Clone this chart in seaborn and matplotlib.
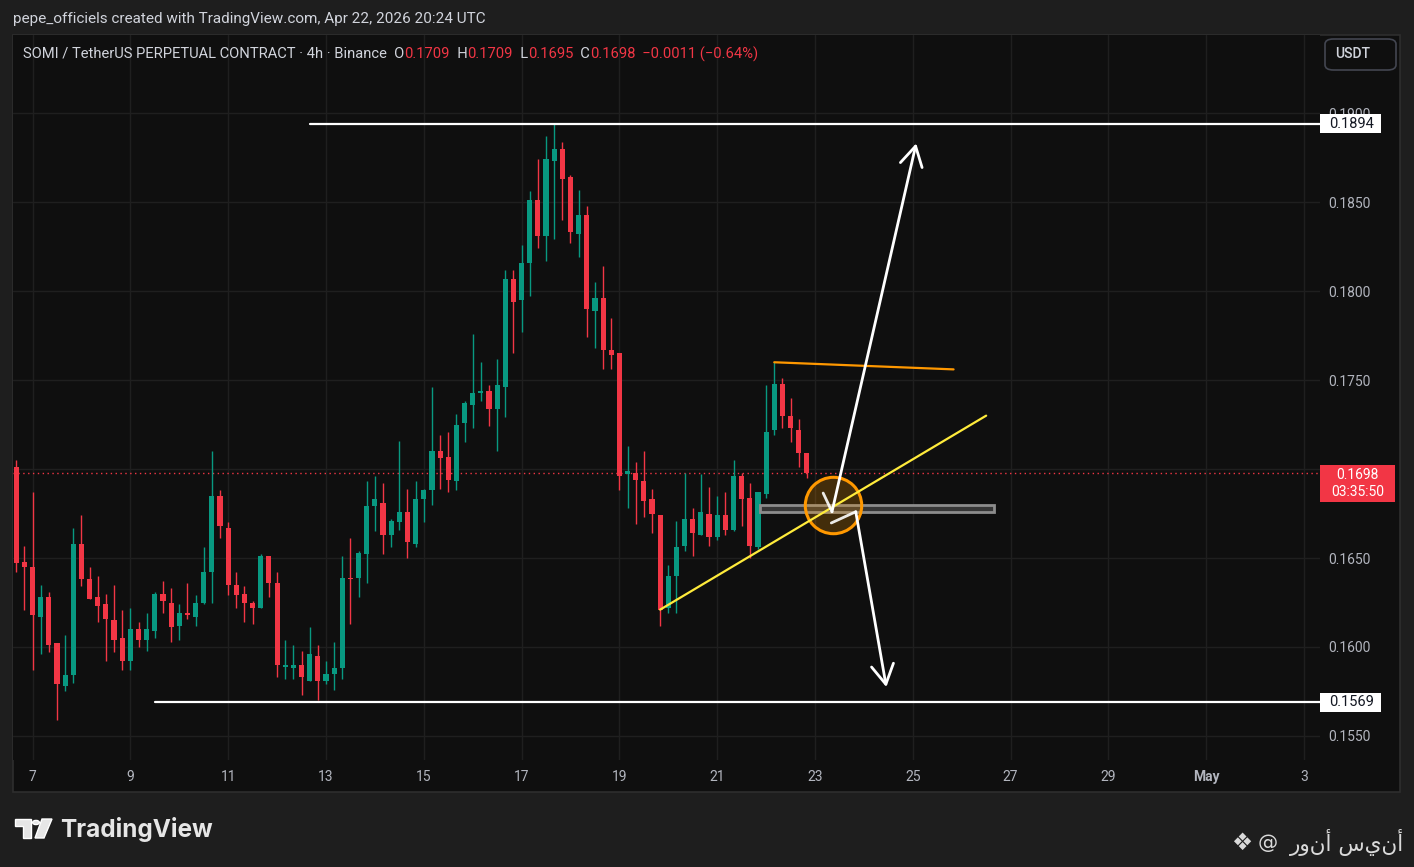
import matplotlib
matplotlib.use("Agg")
from matplotlib import pyplot as plt
import matplotlib.dates as mdates
import matplotlib.patches as mpatches
import numpy as np
import pandas as pd
import seaborn as sns

# 4h candles, SOMI/USDT perp (Binance), Apr 6 16:00 -> Apr 22 20:00 UTC
start = "2026-04-06 16:00"
opens = [0.1701, 0.1648, 0.1645, 0.1617, 0.1628, 0.1602, 0.1578, 0.1584, 0.1658, 0.1638,
         0.1628, 0.1624, 0.1615, 0.1605, 0.1592, 0.1610, 0.1604, 0.1609, 0.1630, 0.1625,
         0.1612, 0.1619, 0.1617, 0.1625, 0.1642, 0.1685, 0.1667, 0.1635, 0.1630, 0.1625,
         0.1622, 0.1651, 0.1636, 0.1589, 0.1588, 0.1590, 0.1581, 0.1595, 0.1581, 0.1585,
         0.1588, 0.1639, 0.1639, 0.1652, 0.1679, 0.1681, 0.1663, 0.1670, 0.1676, 0.1658,
         0.1683, 0.1688, 0.1710, 0.1707, 0.1693, 0.1726, 0.1736, 0.1743, 0.1744, 0.1734,
         0.1746, 0.1807, 0.1795, 0.1816, 0.1851, 0.1831, 0.1873, 0.1880, 0.1864, 0.1832,
         0.1843, 0.1789, 0.1796, 0.1767, 0.1765, 0.1697, 0.1698, 0.1693, 0.1683, 0.1674,
         0.1622, 0.1640, 0.1657, 0.1672, 0.1663, 0.1675, 0.1662, 0.1674, 0.1666, 0.1696,
         0.1684, 0.1656, 0.1686, 0.1722, 0.1748, 0.1730, 0.1722, 0.1709]
highs = [0.1705, 0.1657, 0.1687, 0.1635, 0.1631, 0.1602, 0.1607, 0.1667, 0.1674, 0.1645,
         0.1640, 0.1630, 0.1635, 0.1621, 0.1622, 0.1614, 0.1619, 0.1631, 0.1637, 0.1633,
         0.1624, 0.1636, 0.1629, 0.1656, 0.1710, 0.1688, 0.1670, 0.1642, 0.1634, 0.1626,
         0.1652, 0.1651, 0.1642, 0.1604, 0.1601, 0.1598, 0.1611, 0.1601, 0.1592, 0.1603,
         0.1651, 0.1661, 0.1654, 0.1693, 0.1696, 0.1692, 0.1672, 0.1716, 0.1689, 0.1693,
         0.1689, 0.1746, 0.1719, 0.1721, 0.1731, 0.1738, 0.1776, 0.1760, 0.1747, 0.1762,
         0.1812, 0.1812, 0.1826, 0.1856, 0.1874, 0.1887, 0.1894, 0.1884, 0.1865, 0.1857,
         0.1848, 0.1805, 0.1814, 0.1785, 0.1765, 0.1713, 0.1704, 0.1710, 0.1689, 0.1674,
         0.1646, 0.1671, 0.1698, 0.1678, 0.1697, 0.1690, 0.1685, 0.1687, 0.1705, 0.1698,
         0.1692, 0.1687, 0.1747, 0.1760, 0.1751, 0.1740, 0.1728, 0.1709]
lows = [0.1642, 0.1621, 0.1587, 0.1596, 0.1597, 0.1559, 0.1575, 0.1580, 0.1634, 0.1627,
        0.1614, 0.1592, 0.1597, 0.1587, 0.1587, 0.1600, 0.1598, 0.1605, 0.1619, 0.1603,
        0.1604, 0.1616, 0.1612, 0.1624, 0.1625, 0.1661, 0.1629, 0.1622, 0.1614, 0.1613,
        0.1622, 0.1628, 0.1583, 0.1582, 0.1582, 0.1573, 0.1581, 0.1570, 0.1579, 0.1576,
        0.1582, 0.1613, 0.1628, 0.1636, 0.1665, 0.1652, 0.1656, 0.1666, 0.1650, 0.1656,
        0.1670, 0.1680, 0.1689, 0.1687, 0.1688, 0.1715, 0.1723, 0.1738, 0.1724, 0.1710,
        0.1729, 0.1765, 0.1777, 0.1797, 0.1824, 0.1817, 0.1829, 0.1840, 0.1827, 0.1819,
        0.1774, 0.1768, 0.1756, 0.1756, 0.1688, 0.1678, 0.1669, 0.1673, 0.1664, 0.1612,
        0.1619, 0.1619, 0.1654, 0.1651, 0.1663, 0.1657, 0.1660, 0.1663, 0.1665, 0.1668,
        0.1650, 0.1655, 0.1684, 0.1719, 0.1723, 0.1715, 0.1701, 0.1695]
closes = [0.1647, 0.1645, 0.1618, 0.1628, 0.1601, 0.1579, 0.1584, 0.1658, 0.1638, 0.1627,
          0.1623, 0.1616, 0.1604, 0.1592, 0.1610, 0.1604, 0.1610, 0.1630, 0.1626, 0.1611,
          0.1619, 0.1618, 0.1625, 0.1642, 0.1685, 0.1668, 0.1635, 0.1629, 0.1625, 0.1622,
          0.1651, 0.1636, 0.1590, 0.1590, 0.1590, 0.1583, 0.1596, 0.1581, 0.1585, 0.1588,
          0.1639, 0.1638, 0.1653, 0.1679, 0.1683, 0.1663, 0.1671, 0.1676, 0.1659, 0.1683,
          0.1688, 0.1710, 0.1706, 0.1694, 0.1725, 0.1737, 0.1743, 0.1744, 0.1734, 0.1747,
          0.1807, 0.1794, 0.1816, 0.1851, 0.1831, 0.1874, 0.1880, 0.1863, 0.1833, 0.1843,
          0.1790, 0.1796, 0.1767, 0.1764, 0.1696, 0.1699, 0.1694, 0.1682, 0.1675, 0.1621,
          0.1640, 0.1656, 0.1672, 0.1664, 0.1676, 0.1662, 0.1674, 0.1666, 0.1696, 0.1683,
          0.1657, 0.1687, 0.1721, 0.1748, 0.1730, 0.1723, 0.1709, 0.1698]

price_ticks = [0.1550, 0.1600, 0.1650, 0.1700, 0.1750, 0.1800, 0.1850, 0.1900]
time_ticks = ["2026-04-07", "2026-04-09", "2026-04-11", "2026-04-13", "2026-04-15",
              "2026-04-17", "2026-04-19", "2026-04-21", "2026-04-23", "2026-04-25",
              "2026-04-27", "2026-04-29", "2026-05-01", "2026-05-03"]
time_labels = ["7", "9", "11", "13", "15", "17", "19", "21", "23", "25", "27", "29", "May", "3"]

# drawings on the chart: (time, price) anchors
resistance = (["2026-04-12 16:00", "2026-05-04 00:00"], [0.1894, 0.1894])
support = (["2026-04-09 12:00", "2026-05-04 00:00"], [0.1569, 0.1569])
yellow_trend = (["2026-04-19 20:00", "2026-04-26 12:00"], [0.1621, 0.1730])
orange_top = (["2026-04-22 04:00", "2026-04-25 20:00"], [0.1760, 0.1756])
zone_box = ("2026-04-21 21:00", "2026-04-26 16:00", 0.1676, 0.1680)
circle_pt = ("2026-04-23 08:40", 0.1680)
arrow_up = (("2026-04-23 08:20", 0.1676), ("2026-04-25 01:40", 0.1883), ("2026-04-23 04:00", 0.16865))
arrow_down = (("2026-04-23 20:00", 0.1676), ("2026-04-24 11:00", 0.15775), ("2026-04-23 08:00", 0.16697))
last_price = 0.1698

GREEN = "#089981"
RED = "#f23645"
TXT = "#d1d4dc"
AX_TXT = "#b2b5be"
W, H = 1414, 867

sns.set_theme(style="dark")
plt.rcParams['font.family'] = ['Roboto', 'DejaVu Sans']

fig = plt.figure(figsize=(W / 100, H / 100), dpi=100, facecolor="#1e1e1e")


def fx(x):
    return x / W


def fy(y):
    return 1 - y / H


# chart container (behind the axes)
fig.patches.append(mpatches.Rectangle((fx(13), fy(792)), fx(1400) - fx(13), fy(35) - fy(792),
                                      transform=fig.transFigure, facecolor="#0f0f0f",
                                      edgecolor="#2e2e2e", linewidth=1.2, zorder=-5))

ax = fig.add_axes([fx(13), fy(760), fx(1320) - fx(13), fy(35) - fy(760)])
ax.set_facecolor("#0f0f0f")
ax.set_zorder(1)

times = pd.date_range(start, periods=len(opens), freq="4h")
df = pd.DataFrame({"time": times, "open": opens, "high": highs, "low": lows, "close": closes})
df["up"] = df["close"] >= df["open"]
df["color"] = np.where(df["up"], GREEN, RED)
df["bottom"] = df[["open", "close"]].min(axis=1)
df["height"] = (df["close"] - df["open"]).abs().clip(lower=0.00007)

ax.vlines(df["time"], df["low"], df["high"], colors=df["color"], linewidth=1.0, zorder=3)
ax.bar(df["time"], df["height"], bottom=df["bottom"], width=0.105, color=df["color"],
       linewidth=0, zorder=4)

# current price dotted line
ax.axhline(last_price, color=RED, linewidth=1, linestyle=(0, (1, 2.5)), zorder=2)

# zone box and circle
t0, t1, b0, b1 = zone_box
ax.add_patch(mpatches.Rectangle((mdates.date2num(pd.Timestamp(t0)), b0),
                                mdates.date2num(pd.Timestamp(t1)) - mdates.date2num(pd.Timestamp(t0)),
                                b1 - b0, facecolor="#363636", edgecolor="#8c8c8c",
                                linewidth=2, zorder=5))
ax.scatter([pd.Timestamp(circle_pt[0])], [circle_pt[1]], s=1650, facecolor=(1.0, 0.6, 0.0, 0.22),
           edgecolor="#ff9800", linewidth=2.2, zorder=6)

# lines
for (tx, py), col in [(resistance, "white"), (support, "white"),
                      (yellow_trend, "#ffeb3b"), (orange_top, "#ff9800")]:
    sns.lineplot(x=pd.to_datetime(tx), y=py, ax=ax, color=col, linewidth=1.6, zorder=7)

# arrows
for tail, head, stroke in [arrow_up, arrow_down]:
    tt = mdates.date2num(pd.Timestamp(tail[0]))
    hh = mdates.date2num(pd.Timestamp(head[0]))
    ss = mdates.date2num(pd.Timestamp(stroke[0]))
    ax.annotate("", xy=(hh, head[1]), xytext=(tt, tail[1]),
                arrowprops=dict(arrowstyle="->,head_length=0.7,head_width=0.4", color="white",
                                lw=2, shrinkA=0, shrinkB=0, mutation_scale=20), zorder=8)
    ax.plot([ss, tt], [stroke[1], tail[1]], color="white", linewidth=2, alpha=0.9, zorder=8,
            solid_capstyle="round")

ax.set_ylim(0.15365, 0.19439)
ax.set_xlim(pd.Timestamp(start) - pd.Timedelta(hours=1.6), pd.Timestamp("2026-05-03 07:50"))
ax.set_xlabel("")
ax.set_ylabel("")

ax.set_yticks(price_ticks)
# 0.1700 sits under the live price tag
ax.set_yticklabels(["" if abs(p - 0.17) < 1e-9 else f"{p:.4f}" for p in price_ticks])
ax.yaxis.tick_right()
ax.set_xticks(pd.to_datetime(time_ticks))
ax.set_xticklabels(time_labels)
for lab in ax.get_xticklabels():
    if lab.get_text() == "May":
        lab.set_fontweight("bold")
ax.tick_params(axis="y", length=0, pad=6, labelcolor=AX_TXT, labelsize=10)
ax.tick_params(axis="x", length=0, pad=7, labelcolor=AX_TXT, labelsize=10)
ax.grid(True, color="#1f1f1f", linewidth=1)
for s in ax.spines.values():
    s.set_visible(False)

fig.canvas.draw()
renderer = fig.canvas.get_renderer()


def price_to_px(p):
    return H - ax.transData.transform((0, p))[1]


def tag(price, text, face, color, right, lines=1):
    y = price_to_px(price)
    if lines == 1:
        top, bot = y - 9.5, y + 9.5
    else:
        top, bot = y - 8, y + 29
    fig.patches.append(mpatches.Rectangle((fx(1320), fy(bot)), fx(right) - fx(1320), fy(top) - fy(bot),
                                          transform=fig.transFigure, facecolor=face,
                                          edgecolor="none", zorder=10))
    if lines == 1:
        fig.text(fx((1320 + right) / 2 + 1), fy(y), text, color=color, fontsize=10.5,
                 ha="center", va="center", zorder=11)
    else:
        a, b = text.split("\n")
        fig.text(fx((1320 + right) / 2), fy(y + 2), a, color=color, fontsize=10,
                 ha="center", va="center", zorder=11)
        fig.text(fx((1320 + right) / 2), fy(y + 19), b, color=color, fontsize=10,
                 ha="center", va="center", zorder=11)


tag(0.1894, "0.1894", "white", "#131722", 1381)
tag(0.1569, "0.1569", "white", "#131722", 1381)
tag(last_price, "0.1698\n03:35:50", RED, "white", 1395, lines=2)

# USDT button
fig.patches.append(mpatches.FancyBboxPatch((fx(1325), fy(70)), fx(1396) - fx(1325), fy(39) - fy(70),
                                           boxstyle="round,pad=0,rounding_size=0.006",
                                           transform=fig.transFigure, facecolor="none",
                                           edgecolor="#434651", linewidth=1.2, zorder=10))
fig.text(fx(1353), fy(54), "USDT", color=TXT, fontsize=10, ha="center", va="center",
         fontweight="medium", zorder=11)

# top caption
fig.text(fx(13), fy(19), "pepe_officiels created with TradingView.com, Apr 22, 2026 20:24 UTC",
         color=TXT, fontsize=11, ha="left", va="center")

# legend line
segments = [("SOMI / TetherUS PERPETUAL CONTRACT · 4h · Binance  O", TXT), ("0.1709", RED),
            ("  H", TXT), ("0.1709", RED), ("  L", TXT), ("0.1695", RED),
            ("  C", TXT), ("0.1698", RED), ("  −0.0011 (−0.64%)", RED)]
x = 23
for s, col in segments:
    t = fig.text(fx(x), fy(54), s, color=col, fontsize=10.6, ha="left", va="center", zorder=11)
    x += t.get_window_extent(renderer).width

# footer
fig.patches.append(mpatches.Polygon([(fx(15), fy(819)), (fx(31), fy(819)), (fx(31), fy(838)),
                                     (fx(23), fy(838)), (fx(23), fy(826)), (fx(15), fy(826))],
                                    closed=True, transform=fig.transFigure, facecolor="#e6e6e6"))
fig.patches.append(mpatches.Circle((fx(36), fy(822.5)), 3.4 / W, transform=fig.transFigure,
                                   facecolor="#e6e6e6"))
fig.patches.append(mpatches.Polygon([(fx(42), fy(819)), (fx(52), fy(819)), (fx(44), fy(838)),
                                     (fx(35), fy(838))], closed=True, transform=fig.transFigure,
                                    facecolor="#e6e6e6"))
fig.text(fx(60), fy(829), "TradingView", color="#e6e6e6", fontsize=17.5, fontweight="bold",
         ha="left", va="center", family=["Inter", "DejaVu Sans"])
fig.text(fx(1404), fy(843), "رونأ سينأ", color="#d9d9d9", fontsize=15.5, ha="right", va="center",
         family=["DejaVu Sans"])
fig.text(fx(1268), fy(843), "@", color="#d9d9d9", fontsize=14.5, ha="center", va="center",
         family=["DejaVu Sans"])
fig.text(fx(1242), fy(843), "❖", color="#d9d9d9", fontsize=17, ha="center", va="center",
         family=["DejaVu Sans"])

fig.savefig("out.png", dpi=100, facecolor=fig.get_facecolor())
